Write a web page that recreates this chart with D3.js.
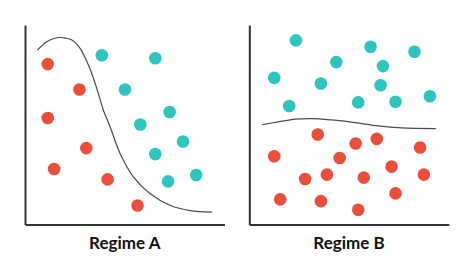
<!DOCTYPE html>
<html>
<head>
<meta charset="utf-8">
<script src="https://cdn.jsdelivr.net/npm/d3@7"></script>
<style>
  body { margin: 0; background: #fff; }
  .label { font-family: "Lato", "Open Sans", sans-serif; font-weight: 700; font-size: 17px; fill: #111; }
</style>
</head>
<body>
<div id="chart"></div>
<script>
// Panel data, both panels on a 0-10 grid
var panelTitles = ["Regime A", "Regime B"];

var redA = [[1.14, 8.04], [2.73, 6.77], [1.14, 5.34], [3.07, 3.83], [1.46, 2.78], [4.14, 2.26], [5.64, 0.95]];
var tealA = [[3.85, 8.48], [6.53, 8.33], [5.01, 6.77], [7.25, 5.64], [5.78, 5.01], [7.92, 4.16], [6.53, 3.53], [8.58, 2.48], [7.17, 2.16]];
var boundaryA = [[0.62, 8.74], [1.09, 9.16], [1.59, 9.36], [1.92, 9.36], [2.35, 9.25], [2.76, 8.83], [3.18, 7.99], [3.60, 6.82],
  [3.93, 5.73], [4.27, 4.89], [4.77, 3.55], [5.44, 2.38], [6.28, 1.54], [7.29, 0.95], [8.29, 0.70], [9.38, 0.62]];

var tealB = [[2.34, 9.23], [6.08, 8.91], [8.28, 8.66], [4.36, 8.14], [6.70, 7.94], [1.25, 7.35], [3.59, 7.07], [6.58, 6.98],
  [9.05, 6.43], [2.00, 5.94], [5.46, 6.12], [7.33, 6.15]];
var redB = [[3.43, 4.51], [6.39, 4.29], [5.33, 4.06], [8.56, 3.86], [1.25, 3.42], [4.53, 3.33], [7.13, 2.90], [2.80, 2.28],
  [3.89, 2.50], [5.74, 2.35], [8.75, 2.50], [1.55, 1.26], [3.59, 1.17], [7.33, 1.56], [5.46, 0.74]];
var boundaryB = [[0.65, 5.01], [1.45, 5.14], [2.29, 5.28], [3.12, 5.31], [4.13, 5.24], [5.29, 5.11], [6.46, 4.94], [7.63, 4.84], [9.35, 4.81]];

var svgWidth = 474;
var svgHeight = 274;

var svg = d3.select("#chart")
  .append("svg")
  .attr("width", svgWidth)
  .attr("height", svgHeight);

// where each panel's plot area sits
var panels = [
  { title: panelTitles[0], left: 25, red: redA, teal: tealA, boundary: boundaryA },
  { title: panelTitles[1], left: 249.3, red: redB, teal: tealB, boundary: boundaryB }
];
var plotSize = 199.5;
var plotTop = 25;

panels.forEach(function (p) {
  var g = svg.append("g")
    .attr("transform", `translate(${p.left}, ${plotTop})`);

  var x = d3.scaleLinear().domain([0, 10]).range([0, plotSize]);
  var y = d3.scaleLinear().domain([0, 10]).range([plotSize, 0]);

  // boundary curve
  var line = d3.line()
    .x(d => x(d[0]))
    .y(d => y(d[1]))
    .curve(d3.curveCatmullRom);

  g.append("path")
    .datum(p.boundary)
    .attr("d", line)
    .attr("fill", "none")
    .attr("stroke", "#4a4a4a")
    .attr("stroke-width", 1.2);

  // dots
  g.selectAll(".red")
    .data(p.red)
    .enter()
    .append("circle")
    .attr("cx", d => x(d[0]))
    .attr("cy", d => y(d[1]))
    .attr("r", 6.3)
    .attr("fill", "#ea4f3a");

  g.selectAll(".teal")
    .data(p.teal)
    .enter()
    .append("circle")
    .attr("cx", d => x(d[0]))
    .attr("cy", d => y(d[1]))
    .attr("r", 6.3)
    .attr("fill", "#2ec5c0");

  // axes, no ticks, only the lines
  var bottomAxis = d3.axisBottom(x).tickValues([]).tickSizeOuter(0);
  var leftAxis = d3.axisLeft(y).tickValues([]).tickSizeOuter(0);

  g.append("g")
    .attr("transform", `translate(0, ${plotSize})`)
    .call(bottomAxis)
    .select(".domain")
    .attr("stroke", "#333")
    .attr("stroke-width", 2);

  g.append("g")
    .call(leftAxis)
    .select(".domain")
    .attr("stroke", "#333")
    .attr("stroke-width", 2);

  g.append("text")
    .attr("class", "label")
    .attr("x", plotSize / 2)
    .attr("y", 224)
    .attr("text-anchor", "middle")
    .text(p.title);
});
</script>
</body>
</html>
